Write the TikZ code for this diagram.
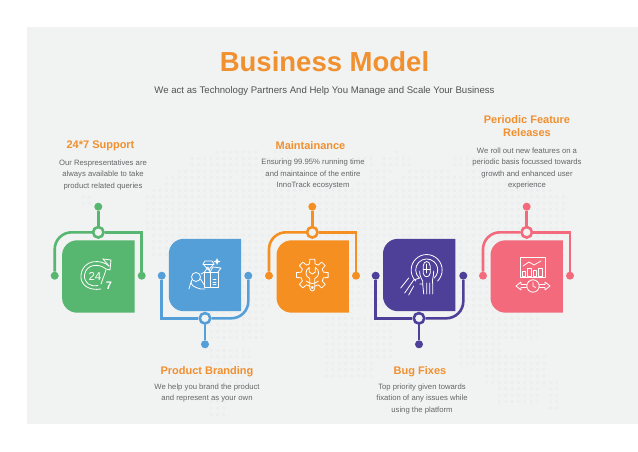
\documentclass[tikz,border=0pt]{standalone}
\usepackage{xcolor}
\usepackage{fontspec}
\setmainfont{Liberation Sans}
\usetikzlibrary{positioning}
\definecolor{panelgrey}{HTML}{F1F2F2}
\definecolor{mapgrey}{HTML}{ECEDEE}
\definecolor{headorange}{HTML}{F0902F}
\definecolor{bodygrey}{HTML}{666668}
\definecolor{tilegreen}{HTML}{57B66F}
\definecolor{tileblue}{HTML}{559FD9}
\definecolor{tileorange}{HTML}{F58F22}
\definecolor{tilepurple}{HTML}{4E3F98}
\definecolor{tilepink}{HTML}{F26A7C}

\begin{document}
\begin{tikzpicture}[x=1pt, y=-1pt, node distance = 3pt]
            \tikzstyle{heading} = [text=headorange, font=\fontsize{11}{13}\selectfont\bfseries, align=center, inner sep=0pt];
            \tikzstyle{body} = [text=bodygrey, font=\fontsize{7.7}{11.5}\selectfont, align=center, inner sep=0pt];
            \tikzstyle{tile} = [minimum size=72pt, inner sep=0pt];
            \tikzstyle{knob} = [circle, minimum size=8pt, inner sep=0pt];
            \tikzstyle{ring} = [circle, minimum size=10.5pt, inner sep=0pt, line width=2.6pt, fill=panelgrey];
            \tikzstyle{wire} = [line width=2.6pt];
            \tikzstyle{icon} = [draw=white, line width=0.8pt, line cap=round, line join=round];

            \useasboundingbox (0,0) rectangle (638,452);
            \fill[white] (0,0) rectangle (638,452);
            \fill[panelgrey] (27,27) rectangle (638,424);

            % dotted map
            \foreach \ra/\rb/\a/\b in {0/0/34/40, 0/0/43/45, 0/0/62/62,
                1/2/30/45, 1/2/56/58, 1/2/60/64, 1/2/71/76,
                3/3/28/44, 3/3/58/61, 3/3/64/70, 3/3/73/78,
                4/4/26/36, 4/4/38/44, 4/4/58/60, 4/4/63/78,
                5/5/26/46, 5/5/50/52, 5/5/56/84,
                6/6/24/48, 6/6/50/60, 6/6/62/86,
                7/8/13/14, 7/12/23/46, 7/12/49/88,
                13/16/24/42, 13/16/50/88, 17/24/28/42, 17/24/54/86,
                25/29/33/41, 25/29/72/84, 26/32/51/61, 33/35/51/58,
                30/33/72/78, 31/36/33/39, 32/36/76/85, 37/39/78/84,
                36/40/86/87, 39/41/33/35} {
                \foreach \r in {\ra,...,\rb} {
                    \foreach \c in {\a,...,\b} {
                        \fill[mapgrey] ({6.4*\c},{152+6.4*\r}) circle (1.7);
                    }
                }
            }

            \node [text=headorange, font=\fontsize{27.5}{30}\selectfont\bfseries, inner sep=0pt] (Title) at (324.5,62) {Business Model};
            \node [text=bodygrey!80!black, font=\fontsize{9.6}{11}\selectfont, inner sep=0pt] (Subtitle) at (324.5,91) {We act as Technology Partners And Help You Manage and Scale Your Business};

            \node [heading] (H1) at (100.5,145.5) {24*7 Support};
            \node [body, below = 9pt of H1, xshift=2.5pt] (B1) {Our Respresentatives are\\always available to take\\product related queries};
            \node [heading] (H3) at (310.5,145.5) {Maintainance};
            \node [body, below = 9pt of H3, xshift=2.5pt] (B3) {Ensuring 99.95\% running time\\and maintaince of the entire\\InnoTrack ecosystem};
            \node [heading] (H5) at (527,126.5) {Periodic Feature\\Releases};
            \node [body, below = 10pt of H5] (B5) {We roll out new features on a\\periodic basis focussed towards\\growth and enhanced user\\experience};
            \node [heading] (H2) at (207,371.5) {Product Branding};
            \node [body, below = 6.5pt of H2] (B2) {We help you brand the product\\and represent as your own};
            \node [heading] (H4) at (420,371.5) {Bug Fixes};
            \node [body, below = 6.5pt of H4, xshift=2pt] (B4) {Top priority given towards\\fixation of any issues while\\using the platform};

            % tiles
            \node [tile] (T1) at (98.3,276.5) {};
            \node [tile] (T2) at (205,275) {};
            \node [tile] (T3) at (312.7,276.5) {};
            \node [tile] (T4) at (419.2,275) {};
            \node [tile] (T5) at (526.7,276.5) {};
            \foreach \t/\col in {T1/tilegreen, T2/tileblue, T3/tileorange, T4/tilepurple, T5/tilepink} {
                \fill[\col] (\t.north) [sharp corners] -- (\t.north east) -- (\t.south east) [rounded corners=15pt] -- (\t.south west) [sharp corners] -- (\t.west) [rounded corners=15pt] -- (\t.north west) -- cycle;
            }

            % green
            \node [knob, fill=tilegreen] (L1) at (54.7,275.7) {};
            \node [knob, fill=tilegreen] (R1) at (141.7,275.7) {};
            \node [knob, fill=tilegreen] (E1) at (98.3,206.7) {};
            \node [ring, draw=tilegreen] (C1) at (98.3,232.3) {};
            \draw [wire, tilegreen, rounded corners=17pt] (L1) |- (C1);
            \draw [wire, tilegreen] (R1) |- (C1);
            \draw [wire, tilegreen] (E1) -- (C1);

            % blue
            \node [knob, fill=tileblue] (L2) at (161.7,275.7) {};
            \node [knob, fill=tileblue] (R2) at (248.3,275.7) {};
            \node [knob, fill=tileblue] (E2) at (205,344.3) {};
            \node [ring, draw=tileblue] (C2) at (205,318.3) {};
            \draw [wire, tileblue] (L2) |- (C2);
            \draw [wire, tileblue, rounded corners=17pt] (R2) |- (C2);
            \draw [wire, tileblue] (E2) -- (C2);

            % orange
            \node [knob, fill=tileorange] (L3) at (269,275.7) {};
            \node [knob, fill=tileorange] (R3) at (356,275.7) {};
            \node [knob, fill=tileorange] (E3) at (312.3,206.7) {};
            \node [ring, draw=tileorange] (C3) at (312.3,232.3) {};
            \draw [wire, tileorange, rounded corners=17pt] (L3) |- (C3);
            \draw [wire, tileorange] (R3) |- (C3);
            \draw [wire, tileorange] (E3) -- (C3);

            % purple
            \node [knob, fill=tilepurple] (L4) at (375.7,275.7) {};
            \node [knob, fill=tilepurple] (R4) at (463.3,275.7) {};
            \node [knob, fill=tilepurple] (E4) at (419,344.3) {};
            \node [ring, draw=tilepurple] (C4) at (419,318.3) {};
            \draw [wire, tilepurple] (L4) |- (C4);
            \draw [wire, tilepurple, rounded corners=17pt] (R4) |- (C4);
            \draw [wire, tilepurple] (E4) -- (C4);

            % pink
            \node [knob, fill=tilepink] (L5) at (483,275.7) {};
            \node [knob, fill=tilepink] (R5) at (570,275.7) {};
            \node [knob, fill=tilepink] (E5) at (526.7,206.7) {};
            \node [ring, draw=tilepink] (C5) at (526.7,232.3) {};
            \draw [wire, tilepink, rounded corners=17pt] (L5) |- (C5);
            \draw [wire, tilepink] (R5) |- (C5);
            \draw [wire, tilepink] (E5) -- (C5);

            % icon clock
            \begin{scope}[shift={(95,275)}]
                \draw[icon] (14,-9) .. controls (6,-16) and (-12,-16) .. (-14,0) .. controls (-15,10) and (-6,16) .. (6,14);
                \draw[icon] (11,-6) .. controls (4,-12) and (-9,-11) .. (-10.5,0) .. controls (-11,8) and (-5,12) .. (3,10.5);
                \draw[icon] (8,-16) -- (16,-15) -- (15,-5) -- (11,-6);
                \draw[icon] (14,-9) -- (8,-16);
            \end{scope}
            \node [text=white, font=\fontsize{11.5}{12}\selectfont, inner sep=0pt] (N24) at (95,276.5) {24};
            \node [text=white, font=\fontsize{11}{12}\selectfont\bfseries, inner sep=0pt] (N7) at (109,286) {7};
            \draw[icon] (101,284) -- (106,270);

            % icon box
            \begin{scope}[shift={(205,275)}]
                \draw[icon] (-0.5,-3) -- (-0.5,12) -- (13,12) -- (13,-3) -- cycle;
                \draw[icon] (5,-3) -- (5,12);
                \draw[icon] (-0.5,-3) -- (-4,-1) (-0.5,-3) -- (3,-8) -- (5,-3) -- (8,-8) -- (16,-7) -- (13,-3);
                \draw[icon] (8,4) -- (11,4) (8,7) -- (11,7) (8,9.5) -- (11,9.5);
                \draw[icon] (-0,-14) -- (7,-14) -- (9,-11) -- (3.5,-5) -- (-2,-11) -- cycle;
                \draw[icon] (-2,-11) -- (9,-11);
                \draw[icon] (-9,2) circle (4.5);
                \draw[icon] (-16,14) -- (-14,7) (-13.5,5) .. controls (-15,10) and (-12,12) .. (-4,14) -- (0,14) (-4.5,4) -- (0,11);
                \fill[white] (12,-17) -- (13,-14.5) -- (15.5,-13.5) -- (13,-12.5) -- (12,-10) -- (11,-12.5) -- (8.5,-13.5) -- (11,-14.5) -- cycle;
            \end{scope}

            % icon gear
            \begin{scope}[shift={(312.3,275)}]
                \draw[icon] (100:11.5) \foreach \t in {135,180,225,270,315,360,405} { -- (\t-14:11.5) -- (\t-9:16) -- (\t+9:16) -- (\t+14:11.5)} -- (80:11.5);
                \draw[icon] (45:8.5) arc (45:135:8.5);
                \draw[icon] (-3,-7.5) -- (-3,-3) -- (0,-1) -- (3,-3) -- (3,-7.5) .. controls (8,-5) and (7,2) .. (2.5,3.5) -- (2.5,13) .. controls (2,17) and (-2,17) .. (-2.5,13) -- (-2.5,3.5) .. controls (-7,2) and (-8,-5) .. (-3,-7.5);
                \draw[icon] (0,12.5) circle (1);
            \end{scope}

            % icon microphone
            \begin{scope}[shift={(426.7,270)}]
                \draw[icon] (-11,11) arc (135:405:15.5);
                \draw[icon] (-7.5,8) arc (133:407:11);
                \draw[icon] (-3.5,-4) .. controls (-3,-10) and (3,-10) .. (3.5,-4) -- (3.5,3) .. controls (3,8) and (-3,8) .. (-3.5,3) -- cycle;
                \draw[icon] (-3.5,-1) -- (3.5,-1) (0,-6) -- (0,3);
                \draw[icon] (-7,1) .. controls (-7,10) and (-3,9) .. (-4,14) -- (-7,14);
                \draw[icon] (-7,8) -- (-13,10) -- (-22,23) (-18,8) -- (-26,18) (-13,16) -- (-18,25);
                \draw[icon] (-4,14) -- (-3,24) (0,13) -- (0,24) (3,13) -- (3,24);
                \draw[icon] (7,1) .. controls (7,8) and (5,9) .. (6,14) -- (6,24);
            \end{scope}

            % icon chart
            \begin{scope}[shift={(533,272)}]
                \draw[icon] (-12.5,-14.5) rectangle (12.5,5.5);
                \draw[icon] (-10,-6) -- (-4,-10) -- (1,-7) -- (8,-11);
                \foreach \bx/\by in {-9/-1, -3.5/-4, 2/-2, 7.5/-4} {
                    \draw[icon] (\bx-1.8,4) rectangle (\bx+1.8,\by);
                }
                \draw[icon] (0,14) circle (6.2);
                \draw[icon] (0,10.5) -- (0,14) -- (2.5,15.5);
                \draw[icon] (-6.5,12.5) -- (-12,12.5) -- (-12,10) -- (-17,14) -- (-12,18) -- (-12,15.5) -- (-6.5,15.5);
                \draw[icon] (6.5,12.5) -- (12,12.5) -- (12,10) -- (17,14) -- (12,18) -- (12,15.5) -- (6.5,15.5);
            \end{scope}
        \end{tikzpicture}
\end{document}
